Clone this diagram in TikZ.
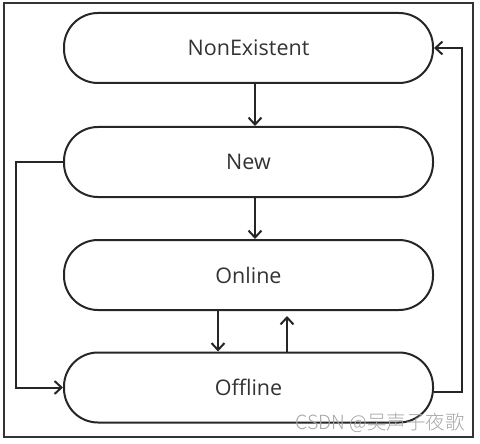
\documentclass[tikz,border=0pt]{standalone}
\usepackage{fontspec}
\setmainfont{Open Sans}
\newfontfamily\cjkfont{Noto Sans CJK SC Light}
\usetikzlibrary{arrows.meta,calc}
\begin{document}
\begin{tikzpicture}[x=1pt,y=-1pt,
  state/.style={draw=black!85, line width=2pt, rounded corners=34pt,
    minimum width=369pt, minimum height=70pt, inner sep=0pt,
    font=\fontsize{21.5}{24}\selectfont, text=black!80},
  link/.style={draw=black!85, line width=2pt,
    -{Straight Barb[length=7pt,width=13pt,line width=2pt]}}]
\useasboundingbox (0,0) rectangle (480,444);
\draw[black!80, line width=2pt] (4,3) rectangle (473,437);
\node[state] (ne)  at (248.5,48)  {NonExistent};
\node[state] (new) at (248.5,162) {New};
\node[state] (on)  at (248.5,275) {Online};
\node[state] (off) at (248.5,387.5) {Offline};
\draw[link] ([xshift=6.5pt]ne.south) -- ([xshift=6.5pt]new.north);
\draw[link] ([xshift=6.5pt]new.south) -- ([xshift=6.5pt]on.north);
\draw[link] ([xshift=-30.5pt]on.south) -- ([xshift=-30.5pt]off.north);
\draw[link, shorten >=5pt] ([xshift=38.5pt]off.north) -- ([xshift=38.5pt]on.south);
\coordinate (lft) at (16,162);
\draw[link] (new.west) -- (lft) |- (off.west);
\coordinate (rgt) at (462,392);
\draw[link] ([xshift=-0.5pt]off.east |- rgt) -- (rgt) |- (ne.east);
\node[anchor=south east, inner sep=0pt, text=black!35, font=\cjkfont\fontsize{19.5}{22}\selectfont] (wm) at (465,433) {CSDN @吴声子夜歌};
\end{tikzpicture}
\end{document}
